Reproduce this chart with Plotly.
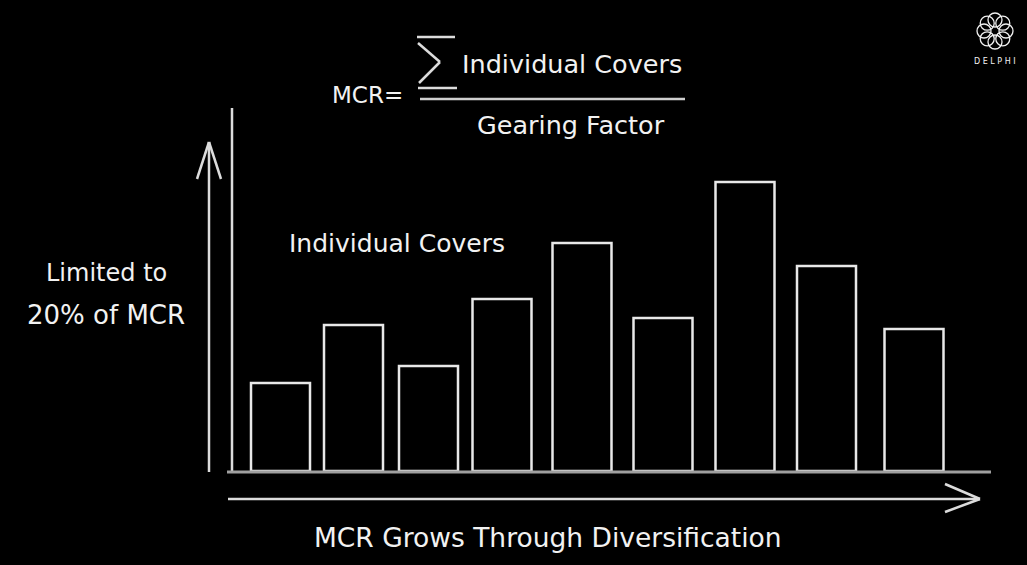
import plotly.graph_objects as go
import math

# ---- data ----
bar_positions = [280.5, 353.5, 428.5, 502, 582, 663, 745, 826.5, 914]
bar_heights = [88, 146, 105, 172, 228, 153, 289, 205, 142]
formula_left = "MCR="
formula_num = "Individual Covers"
formula_den = "Gearing Factor"
bar_label = "Individual Covers"
y_label_lines = ["Limited to", "20% of MCR"]
x_label = "MCR Grows Through Diversification"
brand = "DELPHI"

W, H = 1027, 565
BASE = 471  # pixel y of baseline


def py(y):
    return BASE - y


FONT = "DejaVu Sans"
TXT = "#f2f2f2"
LINE = "#dcdcdc"

fig = go.Figure()
fig.add_trace(go.Bar(
    x=bar_positions, y=bar_heights, width=59,
    marker=dict(color="rgba(0,0,0,0)", line=dict(color="#e8e8e8", width=2.5)),
    hoverinfo="skip",
))

shapes = []
def line(x0, y0, x1, y1, color=LINE, w=2.5):
    shapes.append(dict(type="line", xref="x", yref="y", x0=x0, y0=py(y0), x1=x1, y1=py(y1),
                       line=dict(color=color, width=w)))

# axes
line(232, 108, 232, 472)
line(227, 472, 991, 472, color="#a0a0a0", w=3)
# up arrow
line(209, 472, 209, 142)
line(197, 179, 209, 142)
line(221, 179, 209, 142)
# right arrow
line(228, 499, 980, 499)
line(945, 484, 980, 499)
line(945, 512, 980, 499)
# fraction bar
line(420, 99, 685, 99, color="#cfcfcf", w=2.5)
# hand-drawn sigma
line(417, 37, 455, 37, w=2.5)
line(418, 43, 440, 62, w=2.5)
line(440, 62, 419, 83, w=2.5)
line(418, 88, 457, 88, w=2.5)

# logo: ring of ellipses
cx, cy = 995, 31
for k in range(8):
    a = 2 * math.pi * k / 8
    ex, ey = cx + 11 * math.cos(a), cy + 11 * math.sin(a)
    shapes.append(dict(type="circle", xref="x", yref="y",
                       x0=ex - 7, x1=ex + 7, y0=py(ey - 7), y1=py(ey + 7),
                       line=dict(color="#f0f0f0", width=1.3)))

annotations = []
def text(x, y, s, size, anchor="center", family=FONT):
    annotations.append(dict(x=x, y=py(y), xref="x", yref="y", text=s, showarrow=False,
                            xanchor=anchor, yanchor="middle",
                            font=dict(family=family, size=size, color=TXT)))

text(367, 95, formula_left, 23)
text(572, 64, formula_num, 25.5)
text(571, 125, formula_den, 25.5)
text(397, 243, bar_label, 25)
text(106, 273, y_label_lines[0], 24)
text(106, 315, y_label_lines[1], 26)
text(548, 537, x_label, 26.5)
text(995, 61, "D E L P H I", 8)

fig.update_layout(
    width=W, height=H,
    margin=dict(l=0, r=0, t=0, b=0),
    paper_bgcolor="black", plot_bgcolor="black",
    showlegend=False,
    xaxis=dict(range=[0, W], visible=False, fixedrange=True),
    yaxis=dict(range=[BASE - H, BASE], visible=False, fixedrange=True),
    shapes=shapes, annotations=annotations,
)
fig.write_html(
    "out.html",
    config={"displayModeBar": False},
    post_script="document.body.style.margin='0';document.body.style.background='black';document.body.style.overflow='hidden';",
)
